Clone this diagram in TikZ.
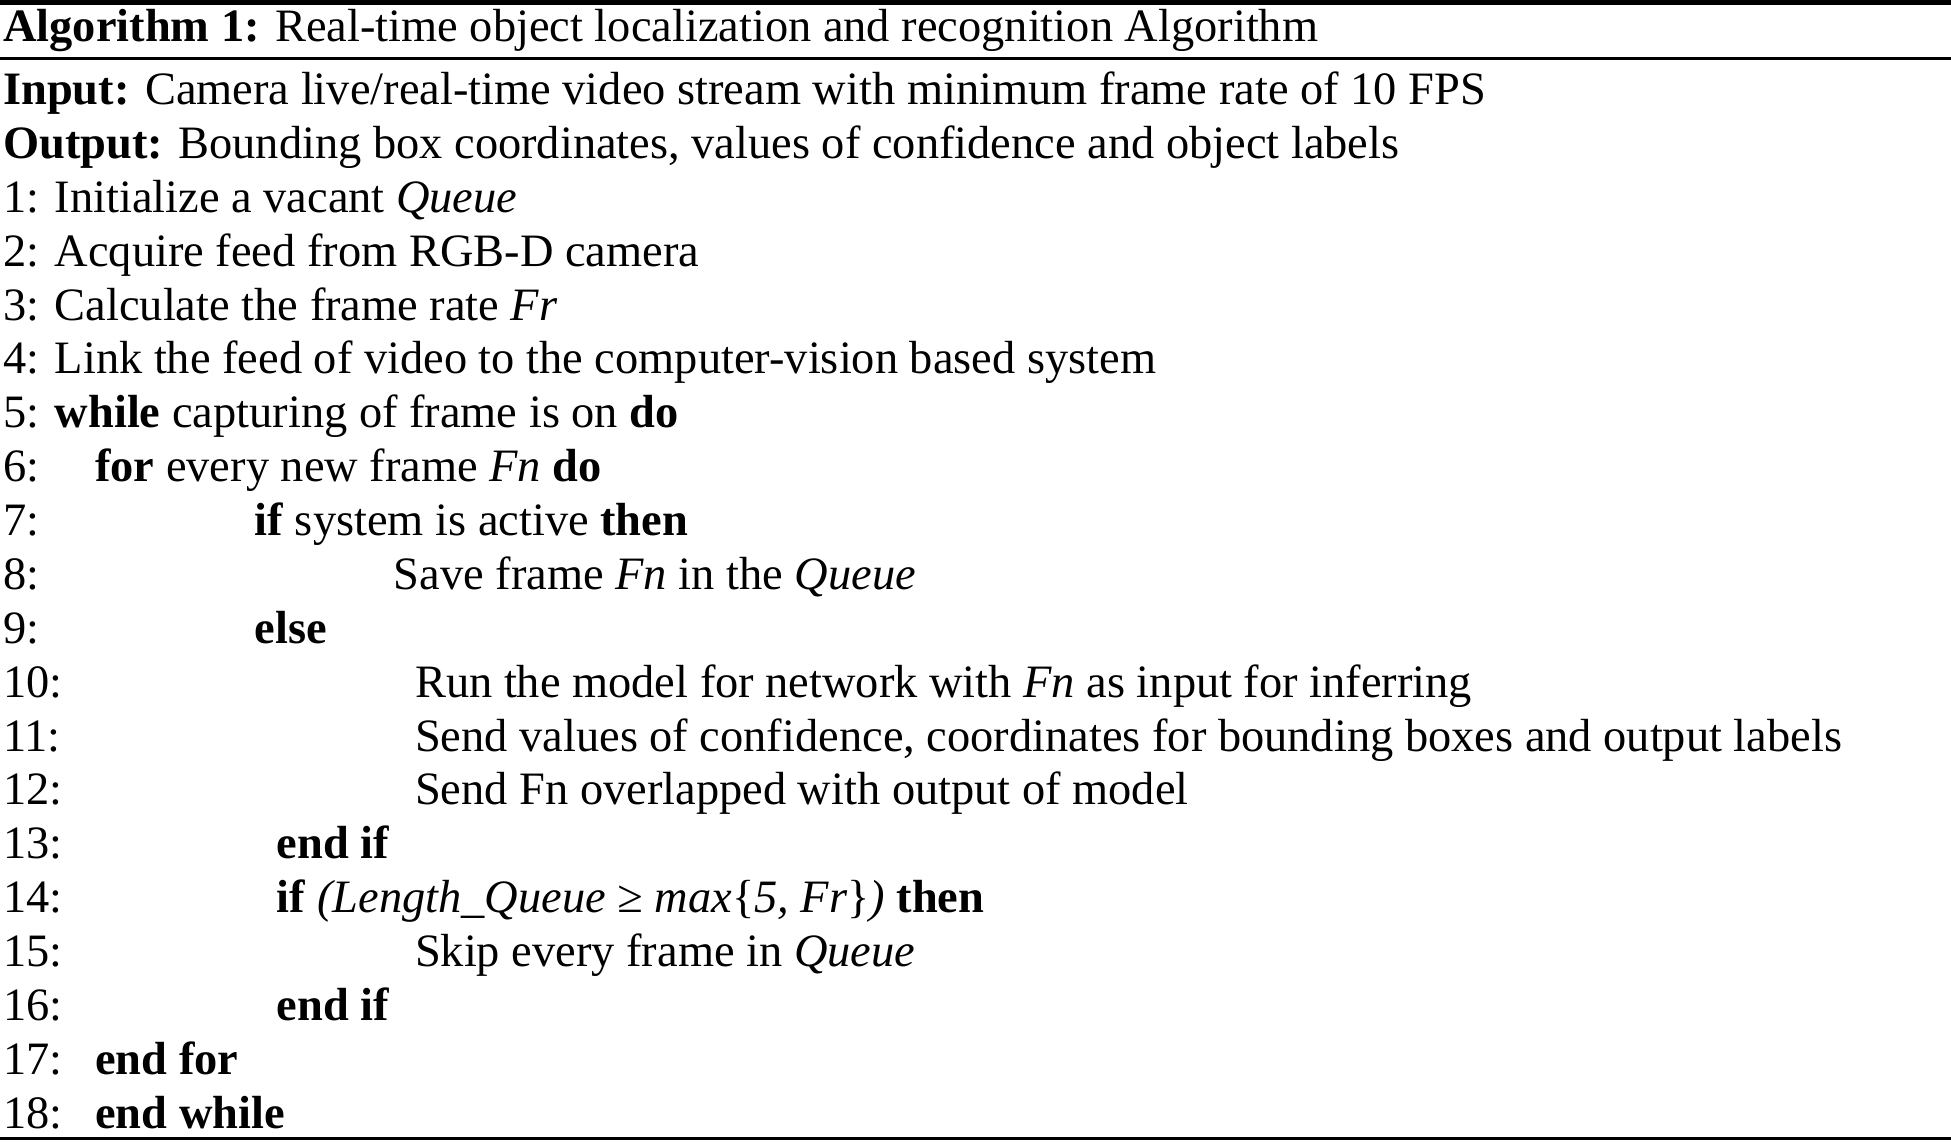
\documentclass[tikz,border=0pt]{standalone}
\usepackage{fontspec}
\setmainfont{Liberation Serif}
\begin{document}
\begin{tikzpicture}[x=0.01244cm,y=-0.01244cm,
  t/.style={anchor=base west,inner sep=0pt,font=\fontsize{13.2}{15}\selectfont}]
\useasboundingbox (0,0) rectangle (1568,918);
\draw[line width=1.6pt] (0,2) -- (1568,2);
\draw[line width=0.6pt] (0,47) -- (1568,47);
\draw[line width=0.6pt] (0,915) -- (1568,915);
\node[t] (title) at (2,33) {\textbf{Algorithm 1:} Real-time object localization and recognition Algorithm};
\node[t] (in) at (2,84) {\textbf{Input:} Camera live/real-time video stream with minimum frame rate of 10 FPS};
\node[t] (out) at (2,127.3) {\textbf{Output:} Bounding box coordinates, values of confidence and object labels};
\foreach \k/\x/\s in {
 1/2/{1: Initialize a vacant \textit{Queue}},
 2/2/{2: Acquire feed from RGB-D camera},
 3/2/{3: Calculate the frame rate \textit{Fr}},
 4/2/{4: Link the feed of video to the computer-vision based system},
 5/2/{5: \textbf{while} capturing of frame is on \textbf{do}}}
 \node[t] (l\k) at (\x,{84+43.3*(\k+1)}) {\s};
\foreach \k in {6,...,18} \node[t] (n\k) at (2,{84+43.3*(\k+1)}) {\k:};
\foreach \k/\x/\s in {
 6/76/{\textbf{for} every new frame \textit{Fn} \textbf{do}},
 7/204/{\textbf{if} system is active \textbf{then}},
 8/316/{Save frame \textit{Fn} in the \textit{Queue}},
 9/204/{\textbf{else}},
 10/333/{Run the model for network with \textit{Fn} as input for inferring},
 11/333/{Send values of confidence, coordinates for bounding boxes and output labels},
 12/333/{Send Fn overlapped with output of model},
 13/222/{\textbf{end if}},
 14/222/{\textbf{if} \textit{(Length\_Queue ≥ max}\{\textit{5, Fr}\}\textit{)} \textbf{then}},
 15/333/{Skip every frame in \textit{Queue}},
 16/222/{\textbf{end if}},
 17/76/{\textbf{end for}},
 18/76/{\textbf{end while}}}
 \node[t] (l\k) at (\x,{84+43.3*(\k+1)}) {\s};
\end{tikzpicture}
\end{document}
